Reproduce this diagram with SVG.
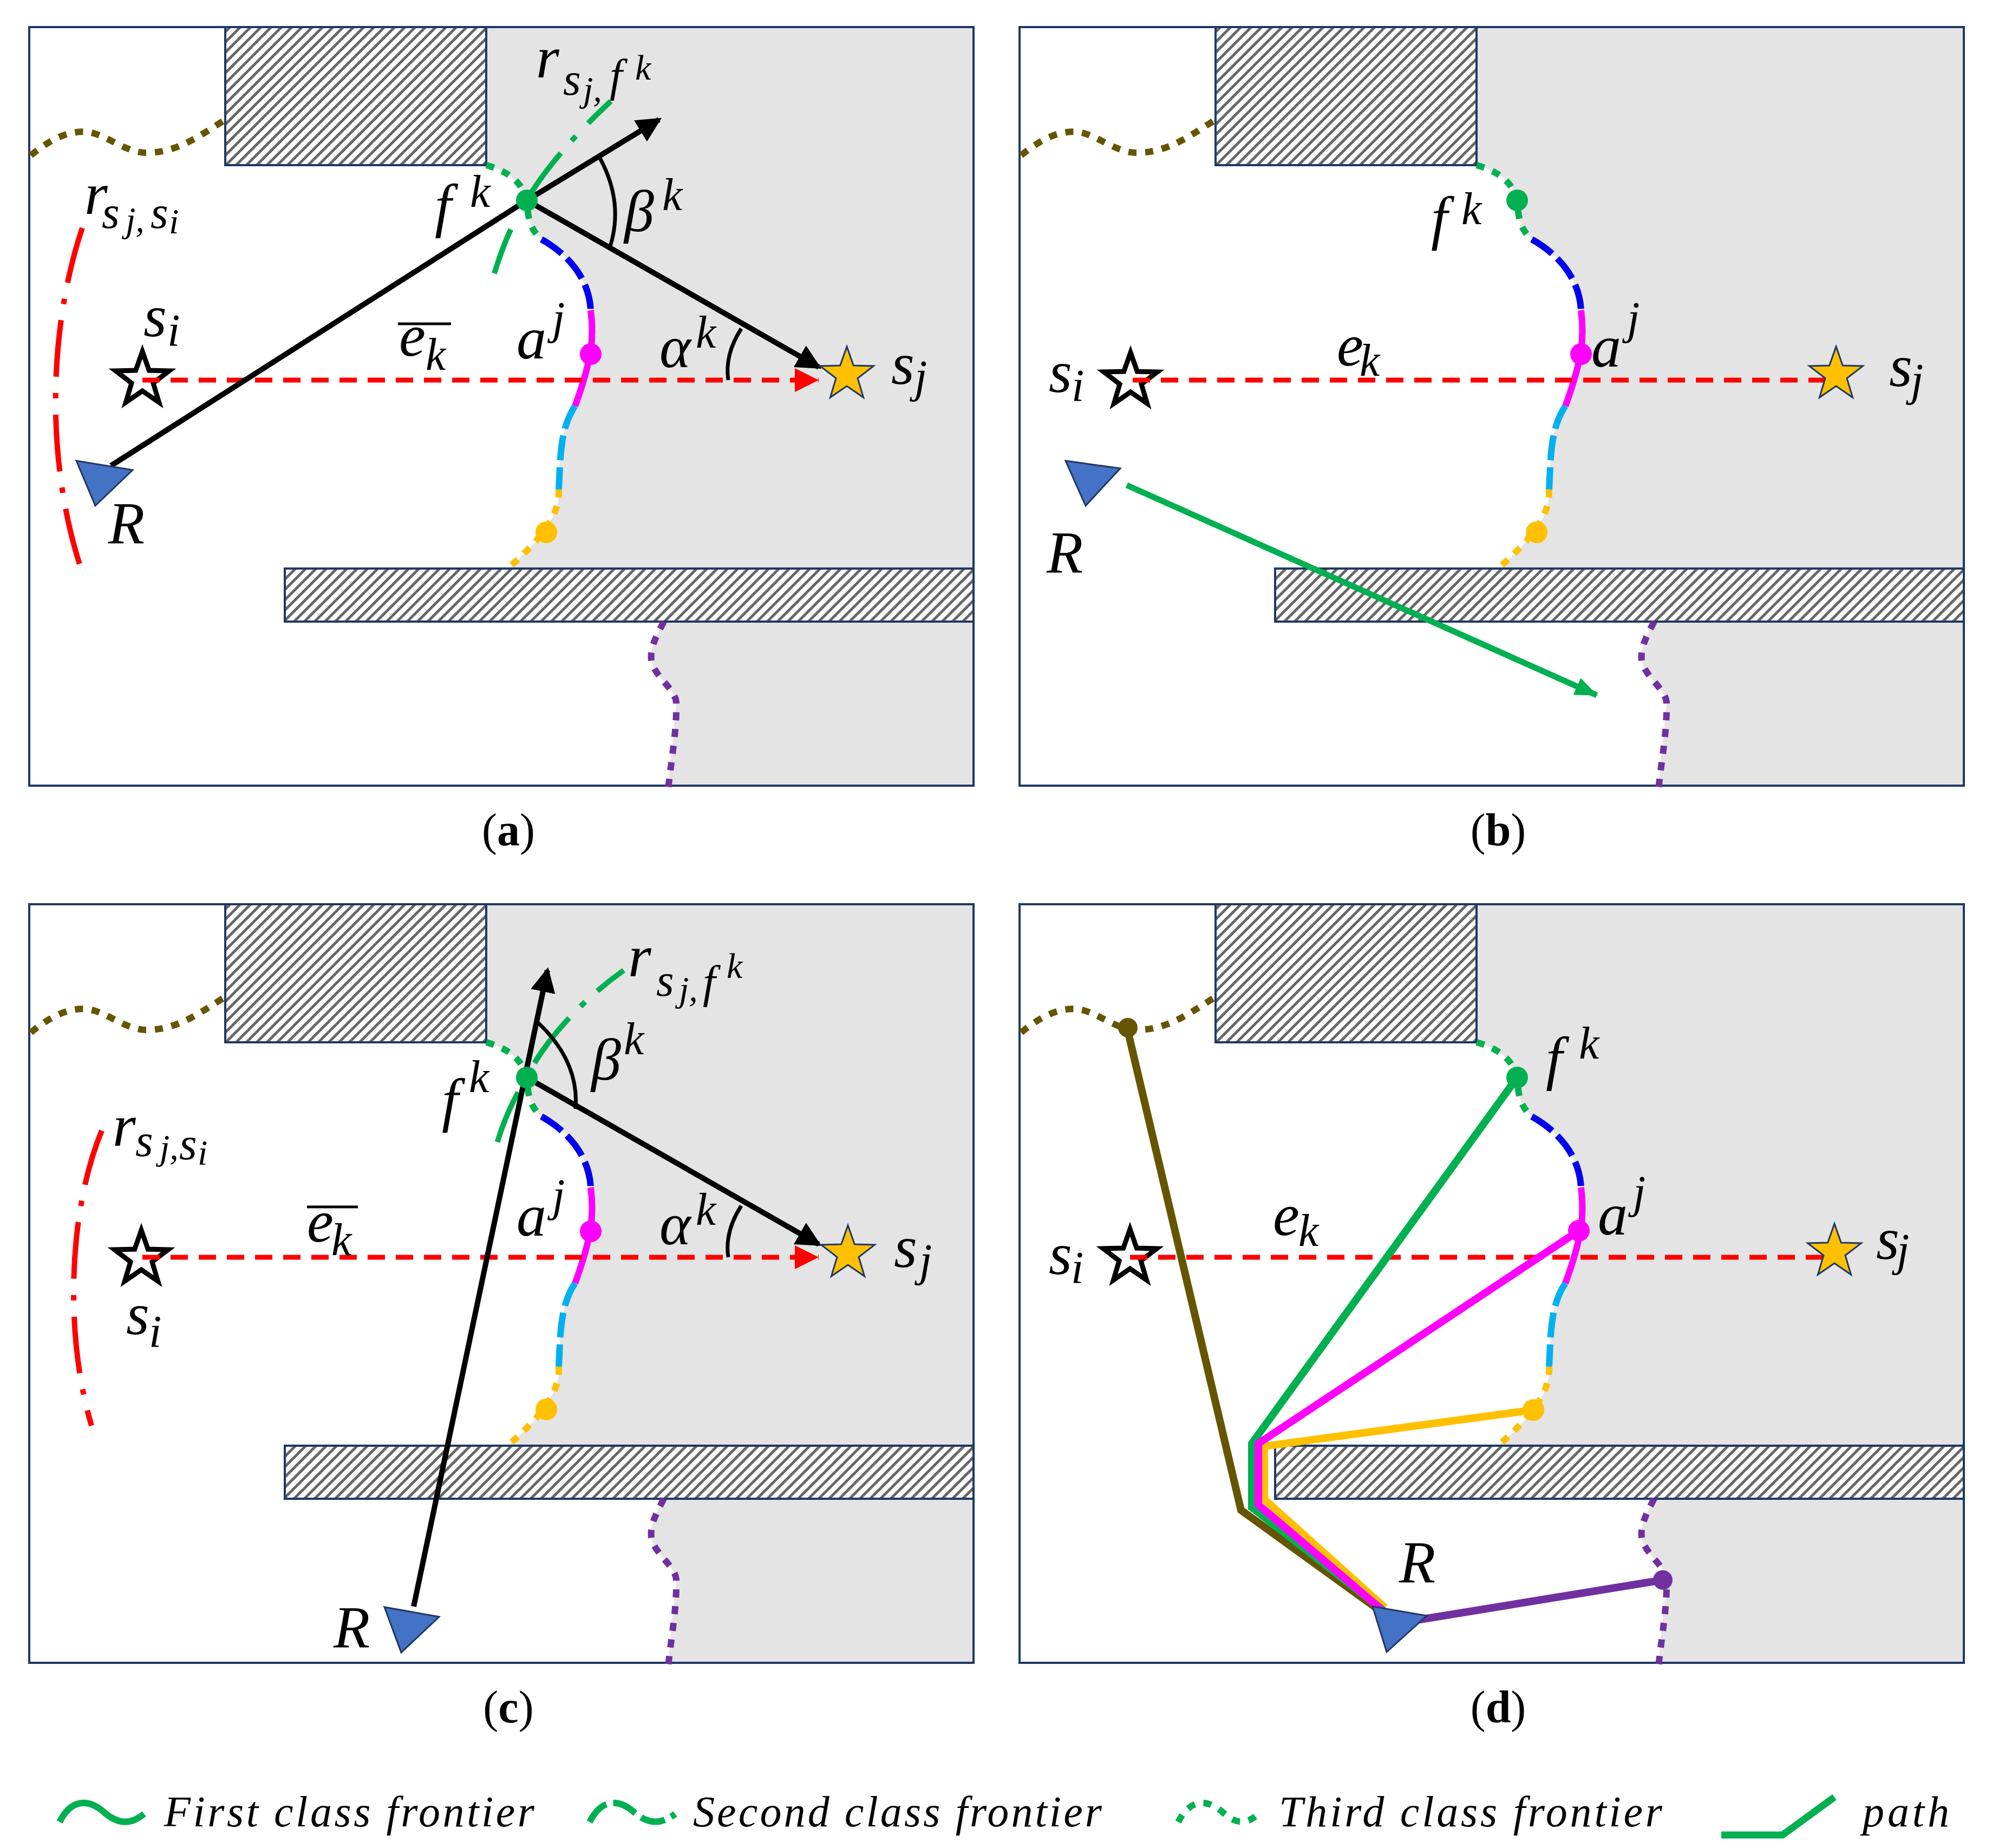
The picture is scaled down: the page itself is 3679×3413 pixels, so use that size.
<svg xmlns="http://www.w3.org/2000/svg" width="3679" height="3413" viewBox="0 0 3679 3413">
<style>
text{font-family:"Liberation Serif",serif;fill:#000}
.m{font-style:italic;font-size:110px}
.s{font-style:italic;font-size:84px}
.ss{font-style:italic;font-size:66px}
.cap{font-size:84px;text-anchor:middle}
.cap .b{font-weight:bold}
.leg{font-style:italic;font-size:80px}
.frame{fill:none;stroke:#1F3864;stroke-width:4}
.hatch{fill:url(#h);stroke:#1F3864;stroke-width:4}
.l{fill:none;stroke-width:12;stroke-linejoin:miter}
.dot3{stroke-dasharray:15 16}
.dash{stroke-dasharray:46 13}
.rad{fill:none;stroke-width:10;stroke-dasharray:105 30 10 30}
.blk{fill:none;stroke:#000;stroke-width:10;marker-end:url(#ah)}
.arc{fill:none;stroke:#000;stroke-width:7}
.red{fill:none;stroke:#FF0000;stroke-width:9;stroke-dasharray:32 20}
.rob{fill:#4472C4;stroke:#1F3864;stroke-width:3}
.p{fill:none;stroke-width:14}
.ov{fill:none;stroke:#000;stroke-width:5}
</style>
<defs>
<pattern id="h" patternUnits="userSpaceOnUse" width="19" height="19">
<rect width="19" height="19" fill="#fff"/>
<path d="M-5 5L5 -5M0 19L19 0M14 24L24 14" stroke="#666" stroke-width="5"/>
</pattern>
<marker id="ah" markerUnits="userSpaceOnUse" markerWidth="48" markerHeight="48" refX="40" refY="23" orient="auto"><path d="M0 0L46 23L0 46z" fill="#000"/></marker>
<marker id="ar" markerUnits="userSpaceOnUse" markerWidth="46" markerHeight="46" refX="44" refY="22" orient="auto"><path d="M0 0L44 22L0 44z" fill="#f00"/></marker>
<marker id="ag" markerUnits="userSpaceOnUse" markerWidth="46" markerHeight="40" refX="40" refY="17" orient="auto"><path d="M0 0L42 17L0 34z" fill="#00B050"/></marker>
<polygon id="star" points="0,-52 12.3,-17 49.5,-16.1 20,6.5 30.6,42.1 0,21 -30.6,42.1 -20,6.5 -49.5,-16.1 -12.3,-17"/>
<g id="base">
<path fill="#E4E4E4" d="M898 49H1798V1050H940C1005 990 1034 950 1032 904C1035 840 1035 790 1062 750C1095 660 1097 620 1091 573C1088 515 1050 470 1000 442C975 420 975 395 973 370C965 335 935 315 898 305Z"/>
<path fill="#E4E4E4" d="M1226 1148H1798V1451H1234L1249 1299C1249 1275 1215 1255 1204 1225C1198 1200 1212 1175 1226 1148Z"/>
<rect class="frame" x="54" y="50" width="1744" height="1401"/>
<rect class="hatch" x="416" y="50" width="482" height="255"/>
<rect class="hatch" x="526" y="1050" width="1272" height="98"/>
<path class="l dot3" stroke="#665500" stroke-width="12" d="M57 287C95 255 130 240 164 244C200 250 235 285 276 282C330 280 370 250 416 221"/>
<path class="l dot3" stroke="#00B050" d="M898 305C935 315 965 335 973 370C975 395 975 420 1000 442"/>
<path class="l dash" stroke="#0000F0" d="M1000 442C1050 470 1088 515 1091 573"/>
<path class="l" stroke="#FF00FF" d="M1091 573C1097 620 1095 660 1062 750"/>
<path class="l dash" stroke="#00B0F0" d="M1062 750C1035 790 1035 840 1032 904"/>
<path class="l dot3" stroke="#FFC000" d="M1032 904C1034 950 1005 990 940 1048"/>
<path class="l dot3" stroke="#7030A0" d="M1226 1148C1212 1175 1198 1200 1204 1225C1215 1255 1249 1275 1249 1299C1250 1350 1240 1400 1234 1458"/>
</g>
</defs>

<g id="panel-a">
<use href="#base"/>
<use href="#star" x="263" y="701" fill="#fff" stroke="#000" stroke-width="9"/>
<g id="a-connectors">
<path class="rad" stroke="#FF0000" d="M152 421C95 590 80 830 147 1042"/>
<path class="rad" stroke="#00B050" style="stroke-dasharray:58 33 12 30 92 77 92" d="M1128 187C1060 250 1000 320 970 375C945 415 930 450 913 505"/>
<path class="red" marker-end="url(#ar)" d="M263 702H1512"/>
<path class="blk" d="M205 860L973 370L1217 221"/>
<path class="blk" d="M973 370L1512 678"/>
<path class="arc" d="M1108 292Q1153 375 1126 458"/>
<path class="arc" d="M1369 607Q1338 655 1345 702"/>
</g>
<g id="a-points">
<circle cx="973" cy="370" r="20" fill="#00B050"/>
<circle cx="1091" cy="654" r="20" fill="#FF00FF"/>
<circle cx="1009" cy="983" r="20" fill="#FFC000"/>
<use href="#star" x="1564" y="692" fill="#FFC000" stroke="#1F3864" stroke-width="3"/>
<polygon class="rob" points="141,851 245,868 176,934"/>
</g>
<g id="a-labels">
<text><tspan class="m" x="990" y="143">r</tspan><tspan class="s" x="1040" y="175">s</tspan><tspan class="ss" x="1077" y="187">j,</tspan><tspan class="s" x="1126" y="168">f</tspan><tspan class="ss" x="1173" y="147">k</tspan></text>
<text><tspan class="m" x="156" y="395">r</tspan><tspan class="s" x="188" y="421">s</tspan><tspan class="ss" x="232" y="428">j,</tspan><tspan class="s" x="278" y="421">s</tspan><tspan class="ss" x="312" y="431">i</tspan></text>
<text><tspan class="m" x="803" y="417">f</tspan><tspan class="s" x="868" y="382">k</tspan></text>
<text><tspan class="m" x="1153" y="427">β</tspan><tspan class="s" x="1223" y="388">k</tspan></text>
<text><tspan class="m" x="265" y="621">s</tspan><tspan class="s" x="309" y="639">i</tspan></text>
<text><tspan class="m" x="1646" y="709">s</tspan><tspan class="s" x="1689" y="724">j</tspan></text>
<path class="ov" d="M735 598H833"/>
<text><tspan class="m" x="737" y="657">e</tspan><tspan class="s" x="786" y="683">k</tspan></text>
<text><tspan class="m" x="954" y="662">a</tspan><tspan class="s" x="1020" y="616">j</tspan></text>
<text><tspan class="m" x="1218" y="678">α</tspan><tspan class="s" x="1285" y="642">k</tspan></text>
<text class="m" x="200" y="1004">R</text>
<text class="cap" x="939" y="1561">(<tspan class="b">a</tspan>)</text>
</g>
</g>

<g id="panel-b" transform="translate(1829 0)">
<use href="#base"/>
<use href="#star" x="259" y="703" fill="#fff" stroke="#000" stroke-width="9"/>
<g id="b-connectors">
<path class="red" d="M263 702H1560"/>
<path fill="none" stroke="#00B050" stroke-width="11" marker-end="url(#ag)" d="M252 896L1120 1284"/>
</g>
<g id="b-points">
<circle cx="973" cy="370" r="20" fill="#00B050"/>
<circle cx="1091" cy="654" r="20" fill="#FF00FF"/>
<circle cx="1009" cy="983" r="20" fill="#FFC000"/>
<use href="#star" x="1562" y="692" fill="#FFC000" stroke="#1F3864" stroke-width="3"/>
<polygon class="rob" points="139,851 240,865 176,934"/>
</g>
<g id="b-labels">
<text><tspan class="m" x="814" y="440">f</tspan><tspan class="s" x="870" y="414">k</tspan></text>
<text><tspan class="m" x="108" y="724">s</tspan><tspan class="s" x="150" y="741">i</tspan></text>
<text><tspan class="m" x="1660" y="713">s</tspan><tspan class="s" x="1700" y="730">j</tspan></text>
<text><tspan class="m" x="640" y="675">e</tspan><tspan class="s" x="682" y="694">k</tspan></text>
<text><tspan class="m" x="1110" y="677">a</tspan><tspan class="s" x="1176" y="616">j</tspan></text>
<text class="m" x="104" y="1058">R</text>
<text class="cap" x="938" y="1561">(<tspan class="b">b</tspan>)</text>
</g>
</g>

<g id="panel-c" transform="translate(0 1620)">
<use href="#base"/>
<use href="#star" x="261" y="704" fill="#fff" stroke="#000" stroke-width="9"/>
<g id="c-connectors">
<path class="rad" stroke="#FF0000" d="M188 468C125 620 120 850 169 1013"/>
<path class="rad" stroke="#00B050" style="stroke-dasharray:62 30 12 30 105 62 100" d="M1152 172C1070 230 1000 310 970 375C945 415 925 460 910 520"/>
<path class="red" marker-end="url(#ar)" d="M263 702H1512"/>
<path class="blk" d="M764 1347L1011 172"/>
<path class="blk" d="M973 370L1512 678"/>
<path class="arc" d="M993 268Q1070 340 1063 428"/>
<path class="arc" d="M1369 607Q1338 655 1345 702"/>
</g>
<g id="c-points">
<circle cx="973" cy="370" r="20" fill="#00B050"/>
<circle cx="1091" cy="654" r="20" fill="#FF00FF"/>
<circle cx="1009" cy="983" r="20" fill="#FFC000"/>
<use href="#star" x="1566" y="695" fill="#FFC000" stroke="#1F3864" stroke-width="3"/>
<polygon class="rob" points="710,1348 811,1366 741,1432"/>
</g>
<g id="c-labels">
<text><tspan class="m" x="1160" y="183">r</tspan><tspan class="s" x="1212" y="219">s</tspan><tspan class="ss" x="1254" y="229">j,</tspan><tspan class="s" x="1298" y="222">f</tspan><tspan class="ss" x="1342" y="186">k</tspan></text>
<text><tspan class="m" x="208" y="496">r</tspan><tspan class="s" x="250" y="515">s</tspan><tspan class="ss" x="295" y="521">j,</tspan><tspan class="s" x="331" y="521">s</tspan><tspan class="ss" x="365" y="531">i</tspan></text>
<text><tspan class="m" x="816" y="449">f</tspan><tspan class="s" x="866" y="397">k</tspan></text>
<text><tspan class="m" x="1092" y="374">β</tspan><tspan class="s" x="1152" y="327">k</tspan></text>
<text><tspan class="m" x="233" y="844">s</tspan><tspan class="s" x="275" y="868">i</tspan></text>
<text><tspan class="m" x="1651" y="720">s</tspan><tspan class="s" x="1698" y="736">j</tspan></text>
<path class="ov" d="M567 609H661"/>
<text><tspan class="m" x="567" y="673">e</tspan><tspan class="s" x="612" y="698">k</tspan></text>
<text><tspan class="m" x="954" y="662">a</tspan><tspan class="s" x="1020" y="616">j</tspan></text>
<text><tspan class="m" x="1218" y="678">α</tspan><tspan class="s" x="1285" y="642">k</tspan></text>
<text class="m" x="616" y="1423">R</text>
<text class="cap" x="939" y="1561">(<tspan class="b">c</tspan>)</text>
</g>
</g>

<g id="panel-d" transform="translate(1829 1620)">
<use href="#base"/>
<use href="#star" x="258" y="702" fill="#fff" stroke="#000" stroke-width="9"/>
<g id="d-connectors">
<path class="red" d="M258 702H1555"/>
<path class="p" stroke="#665500" d="M252 276L463 1169L712 1349"/>
<path class="p" stroke="#FFC000" d="M1003 984L506 1051V1149L729 1349"/>
<path class="p" stroke="#00B050" d="M973 370L483 1046V1164L726 1354"/>
<path class="p" stroke="#FF00FF" d="M1087 653L495 1046V1159L722 1352"/>
<path class="p" stroke="#7030A0" d="M1242 1298L788 1372"/>
</g>
<g id="d-points">
<circle cx="254" cy="278" r="18" fill="#665500"/>
<circle cx="973" cy="370" r="20" fill="#00B050"/>
<circle cx="1087" cy="653" r="20" fill="#FF00FF"/>
<circle cx="1003" cy="984" r="20" fill="#FFC000"/>
<circle cx="1242" cy="1298" r="18" fill="#7030A0"/>
<use href="#star" x="1559" y="692" fill="#FFC000" stroke="#1F3864" stroke-width="3"/>
<polygon class="rob" points="706,1347 806,1364 732,1431"/>
</g>
<g id="d-labels">
<text><tspan class="m" x="1026" y="372">f</tspan><tspan class="s" x="1087" y="335">k</tspan></text>
<text><tspan class="m" x="108" y="733">s</tspan><tspan class="s" x="149" y="750">i</tspan></text>
<text><tspan class="m" x="1636" y="705">s</tspan><tspan class="s" x="1674" y="717">j</tspan></text>
<text><tspan class="m" x="522" y="661">e</tspan><tspan class="s" x="569" y="681">k</tspan></text>
<text><tspan class="m" x="1122" y="660">a</tspan><tspan class="s" x="1187" y="610">j</tspan></text>
<text class="m" x="755" y="1303">R</text>
<text class="cap" x="938" y="1561">(<tspan class="b">d</tspan>)</text>
</g>
</g>

<g id="legend">
<path fill="none" stroke="#00B050" stroke-width="12" d="M110 3365C130 3325 160 3320 190 3345C215 3368 240 3372 266 3350"/>
<text class="leg" x="303" y="3373" textLength="684" lengthAdjust="spacing">First class frontier</text>
<path fill="none" stroke="#00B050" stroke-width="12" stroke-dasharray="46 13" d="M1089 3365C1109 3325 1139 3320 1169 3345C1194 3368 1219 3372 1247 3350"/>
<text class="leg" x="1280" y="3373" textLength="755" lengthAdjust="spacing">Second class frontier</text>
<path fill="none" stroke="#00B050" stroke-width="12" stroke-dasharray="15 16" d="M2176 3365C2196 3325 2226 3320 2256 3345C2281 3368 2300 3372 2324 3350"/>
<text class="leg" x="2362" y="3373" textLength="708" lengthAdjust="spacing">Third class frontier</text>
<path fill="none" stroke="#00B050" stroke-width="13" d="M3179 3389H3292L3388 3319"/>
<text class="leg" x="3440" y="3373" textLength="160" lengthAdjust="spacing">path</text>
</g>
</svg>
